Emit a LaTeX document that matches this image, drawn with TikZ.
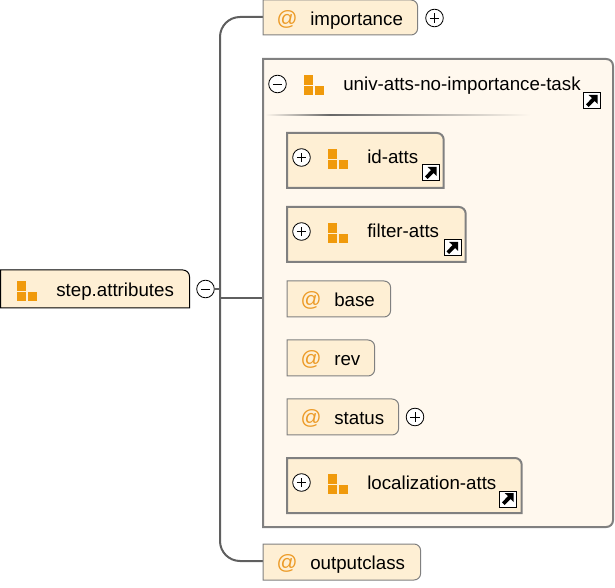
\documentclass[tikz,border=0pt]{standalone}
\usepackage{fontspec}
\setmainfont{Liberation Sans}
\definecolor{nodefill}{HTML}{FEEFD4}
\definecolor{groupfill}{HTML}{FFF8EE}
\definecolor{edgegray}{HTML}{808080}
\definecolor{trunkgray}{HTML}{5F5F5F}
\definecolor{iconorange}{HTML}{F09A0C}
\definecolor{atorange}{HTML}{EC9A26}
\tikzset{
  boxanchor/.style={anchor=north west,inner sep=0pt,outer sep=0pt},
  lbl/.style={anchor=base west,inner sep=0pt,font=\fontsize{14.05pt}{16pt}\selectfont},
  atsign/.style={anchor=base,inner sep=0pt,text=atorange,font=\fontsize{15.5pt}{16pt}\selectfont},
  conn/.style={draw=trunkgray,line width=1.5pt},
  toggle/.style={circle,draw=black,fill=white,line width=.6pt,minimum size=13.2pt,inner sep=0pt},
  plusnode/.style={toggle,path picture={
    \draw[line width=.55pt] ([xshift=-3.4pt]path picture bounding box.center) -- ([xshift=3.4pt]path picture bounding box.center);
    \draw[line width=.55pt] ([yshift=-3.4pt]path picture bounding box.center) -- ([yshift=3.4pt]path picture bounding box.center);}},
  minusnode/.style={toggle,path picture={
    \draw[line width=.55pt] ([xshift=-3.4pt]path picture bounding box.center) -- ([xshift=3.4pt]path picture bounding box.center);}},
  groupicon/.pic={
    \fill[iconorange] (0,0) rectangle (9,10);
    \fill[iconorange] (0,11) rectangle (9,20);
    \fill[iconorange] (11,11) rectangle (20,20);
  },
  jumpicon/.pic={
    \draw[black,fill=white,line width=.75pt] (0,0) rectangle (17,16);
    \fill[black] (5,2) -- (14,2) -- (14,11) -- (11,8) -- (5,14) -- (2.5,11.5) -- (8.5,5) -- cycle;
  },
}
%% box outlines, the text goes on top afterwards
\newcommand{\tipbox}[2]{\path[#2] (#1.south west) -- (#1.north west) [rounded corners=5pt] -- (#1.north east) [sharp corners] -- (#1.south east) -- cycle;}
\newcommand{\sidebox}[2]{\path[#2] (#1.south west) -- (#1.north west) [rounded corners=5pt] -- (#1.north east) -- (#1.south east) [sharp corners] -- (#1.south west) -- cycle;}
\begin{document}
\begin{tikzpicture}[x=.75pt,y=-.75pt]
    \useasboundingbox (0,0) rectangle (615,588);

    %% boxes
    \node[boxanchor,minimum width=141.75pt,minimum height=28.5pt] (step) at (0.5,270) {};
    \node[boxanchor,minimum width=116pt,minimum height=26.25pt] (importance) at (263,0) {};
    \node[boxanchor,minimum width=262.5pt,minimum height=351pt] (univ) at (263,59) {};
    \node[boxanchor,minimum width=117.5pt,minimum height=41.25pt] (idatts) at (287,133) {};
    \node[boxanchor,minimum width=134pt,minimum height=41.25pt] (filteratts) at (287,207) {};
    \node[boxanchor,minimum width=77.75pt,minimum height=27pt] (base) at (287,281) {};
    \node[boxanchor,minimum width=65.75pt,minimum height=27pt] (rev) at (287,340) {};
    \node[boxanchor,minimum width=83.75pt,minimum height=27pt] (status) at (287,399) {};
    \node[boxanchor,minimum width=176pt,minimum height=41.25pt] (locatts) at (287,458) {};
    \node[boxanchor,minimum width=118.25pt,minimum height=27pt] (outputclass) at (263,544) {};

    %% connectors
    \node[minusnode] (stepminus) at (205.5,289) {};
    \coordinate (trunktop) at (220,17);
    \coordinate (trunkmid) at (220,298.5);
    \coordinate (trunkend) at (220,561);
    \draw[conn,rounded corners=15pt] (importance.west |- trunktop) -- (trunktop) -- (trunkend) -- (outputclass.west |- trunkend);
    \draw[conn] (trunkmid) -- (univ.west |- trunkmid);
    \draw[conn] (stepminus.east) -- (stepminus.east -| trunkmid);

    %% outlines
    \tipbox{step}{fill=nodefill,draw=black,line width=.75pt}
    \sidebox{importance}{fill=nodefill,draw=edgegray,line width=.75pt}
    \sidebox{univ}{fill=groupfill,draw=edgegray,line width=1.5pt}
    \tipbox{idatts}{fill=nodefill,draw=edgegray,line width=1.5pt}
    \tipbox{filteratts}{fill=nodefill,draw=edgegray,line width=1.5pt}
    \sidebox{base}{fill=nodefill,draw=edgegray,line width=.75pt}
    \sidebox{rev}{fill=nodefill,draw=edgegray,line width=.75pt}
    \sidebox{status}{fill=nodefill,draw=edgegray,line width=.75pt}
    \tipbox{locatts}{fill=nodefill,draw=edgegray,line width=1.5pt}
    \sidebox{outputclass}{fill=nodefill,draw=edgegray,line width=.75pt}

    %% separator under the group title
    \fill[left color=groupfill,right color=edgegray!80!black] (265,114.2) rectangle (330,115.8);
    \fill[left color=edgegray!80!black,right color=groupfill] (330,114.2) rectangle (530,115.8);

    %% toggles
    \node[plusnode] (importanceplus) at (434.5,18) {};
    \node[minusnode] (univminus) at (277.5,84) {};
    \node[plusnode] (idplus) at (301.5,157.5) {};
    \node[plusnode] (filterplus) at (301.5,231.5) {};
    \node[plusnode] (statusplus) at (415,417) {};
    \node[plusnode] (locplus) at (301.5,482.5) {};

    %% group icons
    \pic (stepicon) at (17,281.5) {groupicon};
    \pic (univicon) at (304,75) {groupicon};
    \pic (idicon) at (328,149) {groupicon};
    \pic (filtericon) at (328,223) {groupicon};
    \pic (locicon) at (328,474) {groupicon};

    %% jump icons
    \pic (univjump) at (583.5,93) {jumpicon};
    \pic (idjump) at (422.5,165) {jumpicon};
    \pic (filterjump) at (444,240) {jumpicon};
    \pic (locjump) at (499.5,491) {jumpicon};

    %% at signs
    \node[atsign] (importanceat) at (287,25.5) {@};
    \node[atsign] (baseat) at (311,306.5) {@};
    \node[atsign] (revat) at (311,365.5) {@};
    \node[atsign] (statusat) at (311,424.5) {@};
    \node[atsign] (outputat) at (287,569.5) {@};

    %% labels
    \node[lbl] (steplbl) at (56,297) {step.attributes};
    \node[lbl] (importancelbl) at (310,25.5) {importance};
    \node[lbl] (univlbl) at (343,90.5) {univ-atts-no-importance-task};
    \node[lbl] (idlbl) at (367,164) {id-atts};
    \node[lbl] (filterlbl) at (367,238) {filter-atts};
    \node[lbl] (baselbl) at (334,306.5) {base};
    \node[lbl] (revlbl) at (334,365.5) {rev};
    \node[lbl] (statuslbl) at (334,424.5) {status};
    \node[lbl] (loclbl) at (367,489.5) {localization-atts};
    \node[lbl] (outputlbl) at (310,569.5) {outputclass};
  \end{tikzpicture}
\end{document}
